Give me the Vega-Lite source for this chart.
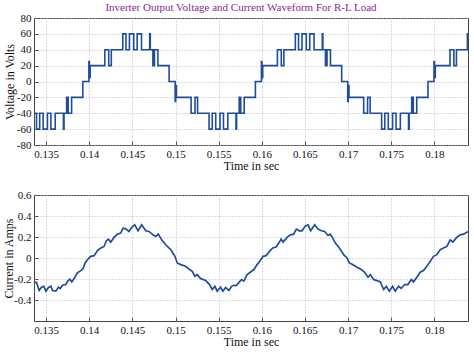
{
  "$schema": "https://vega.github.io/schema/vega-lite/v6.json",
  "autosize": {"type": "pad"},
  "padding": {"left": 2, "top": 1, "right": 5, "bottom": 2},
  "background": "white",
  "title": {"text": "Inverter Output Voltage and Current Waveform For R-L Load", "font": "Liberation Serif", "fontSize": 11, "fontWeight": "normal", "color": "#8b1f8f", "anchor": "middle", "frame": "group", "offset": -1, "dx": -10},
  "config": {
    "view": {"stroke": "#444", "strokeWidth": 1},
    "axis": {"labelFont": "Liberation Serif", "labelFontSize": 11, "labelColor": "#111", "titleFont": "Liberation Serif", "titleFontSize": 12, "titleFontWeight": "normal", "titleColor": "#111", "domain": false, "tickColor": "#555", "tickSize": -4, "gridColor": "#b8b8b8", "gridDash": [1, 2], "gridWidth": 1, "labelPadding": 7}
  },
  "datasets": {
    "voltage": [
      {"t": 0.1336, "v": -40}, {"t": 0.13389, "v": -60}, {"t": 0.13426, "v": -40}, {"t": 0.13466, "v": -60}, {"t": 0.13516, "v": -40}, {"t": 0.13556, "v": -60}, {"t": 0.13606, "v": -40}, {"t": 0.13701, "v": -60}, {"t": 0.13708, "v": -40}, {"t": 0.13738, "v": -20}, {"t": 0.13756, "v": -40}, {"t": 0.13796, "v": -20},
      {"t": 0.13926, "v": 0}, {"t": 0.13996, "v": 25}, {"t": 0.14002, "v": 5}, {"t": 0.14011, "v": 20}, {"t": 0.14181, "v": 40}, {"t": 0.14226, "v": 20}, {"t": 0.14256, "v": 40}, {"t": 0.14389, "v": 60}, {"t": 0.14426, "v": 40}, {"t": 0.14466, "v": 60}, {"t": 0.14516, "v": 40}, {"t": 0.14556, "v": 60}, {"t": 0.14606, "v": 40}, {"t": 0.14701, "v": 60}, {"t": 0.14708, "v": 40}, {"t": 0.14738, "v": 20}, {"t": 0.14756, "v": 40}, {"t": 0.14796, "v": 20},
      {"t": 0.14926, "v": 0}, {"t": 0.14996, "v": -25}, {"t": 0.15002, "v": -5}, {"t": 0.15011, "v": -20}, {"t": 0.15181, "v": -40}, {"t": 0.15226, "v": -20}, {"t": 0.15256, "v": -40}, {"t": 0.15389, "v": -60}, {"t": 0.15426, "v": -40}, {"t": 0.15466, "v": -60}, {"t": 0.15516, "v": -40}, {"t": 0.15556, "v": -60}, {"t": 0.15606, "v": -40}, {"t": 0.15701, "v": -60}, {"t": 0.15708, "v": -40}, {"t": 0.15738, "v": -20}, {"t": 0.15756, "v": -40}, {"t": 0.15796, "v": -20},
      {"t": 0.15926, "v": 0}, {"t": 0.15996, "v": 25}, {"t": 0.16002, "v": 5}, {"t": 0.16011, "v": 20}, {"t": 0.16181, "v": 40}, {"t": 0.16226, "v": 20}, {"t": 0.16256, "v": 40}, {"t": 0.16389, "v": 60}, {"t": 0.16426, "v": 40}, {"t": 0.16466, "v": 60}, {"t": 0.16516, "v": 40}, {"t": 0.16556, "v": 60}, {"t": 0.16606, "v": 40}, {"t": 0.16701, "v": 60}, {"t": 0.16708, "v": 40}, {"t": 0.16738, "v": 20}, {"t": 0.16756, "v": 40}, {"t": 0.16796, "v": 20},
      {"t": 0.16926, "v": 0}, {"t": 0.16996, "v": -25}, {"t": 0.17002, "v": -5}, {"t": 0.17011, "v": -20}, {"t": 0.17181, "v": -40}, {"t": 0.17226, "v": -20}, {"t": 0.17256, "v": -40}, {"t": 0.17389, "v": -60}, {"t": 0.17426, "v": -40}, {"t": 0.17466, "v": -60}, {"t": 0.17516, "v": -40}, {"t": 0.17556, "v": -60}, {"t": 0.17606, "v": -40}, {"t": 0.17701, "v": -60}, {"t": 0.17708, "v": -40}, {"t": 0.17738, "v": -20}, {"t": 0.17756, "v": -40}, {"t": 0.17796, "v": -20},
      {"t": 0.17926, "v": 0}, {"t": 0.17996, "v": 25}, {"t": 0.18002, "v": 5}, {"t": 0.18011, "v": 20}, {"t": 0.18181, "v": 40}, {"t": 0.18226, "v": 20}, {"t": 0.18256, "v": 40}, {"t": 0.18383, "v": 60}, {"t": 0.1839, "v": 60}
    ],
    "current": [
      {"t": 0.13362, "i": -0.227}, {"t": 0.1339, "i": -0.235}, {"t": 0.1342, "i": -0.309}, {"t": 0.13447, "i": -0.278}, {"t": 0.13474, "i": -0.27}, {"t": 0.13498, "i": -0.316}, {"t": 0.13528, "i": -0.28}, {"t": 0.13556, "i": -0.268}, {"t": 0.13574, "i": -0.31}, {"t": 0.13613, "i": -0.316}, {"t": 0.13644, "i": -0.278}, {"t": 0.13665, "i": -0.29}, {"t": 0.1369, "i": -0.259}, {"t": 0.13729, "i": -0.253}, {"t": 0.13748, "i": -0.222}, {"t": 0.13775, "i": -0.202}, {"t": 0.13798, "i": -0.227}, {"t": 0.13825, "i": -0.196}, {"t": 0.13863, "i": -0.142}, {"t": 0.13903, "i": -0.12}, {"t": 0.1393, "i": -0.101}, {"t": 0.13952, "i": -0.047}, {"t": 0.13979, "i": -0.016}, {"t": 0.14018, "i": 0.016}, {"t": 0.14057, "i": 0.022}, {"t": 0.14095, "i": 0.07}, {"t": 0.14134, "i": 0.095}, {"t": 0.14172, "i": 0.11}, {"t": 0.14199, "i": 0.165}, {"t": 0.14222, "i": 0.18}, {"t": 0.1425, "i": 0.152}, {"t": 0.14288, "i": 0.196}, {"t": 0.14326, "i": 0.227}, {"t": 0.14365, "i": 0.237}, {"t": 0.14392, "i": 0.284}, {"t": 0.14423, "i": 0.278}, {"t": 0.14461, "i": 0.253}, {"t": 0.145, "i": 0.3}, {"t": 0.14527, "i": 0.316}, {"t": 0.14566, "i": 0.259}, {"t": 0.14608, "i": 0.316}, {"t": 0.14655, "i": 0.259}, {"t": 0.14693, "i": 0.253}, {"t": 0.14739, "i": 0.221}, {"t": 0.1477, "i": 0.205}, {"t": 0.148, "i": 0.227}, {"t": 0.1484, "i": 0.173}, {"t": 0.14886, "i": 0.126}, {"t": 0.14944, "i": 0.08}, {"t": 0.14994, "i": 0.016}, {"t": 0.1502, "i": -0.047}, {"t": 0.1506, "i": -0.063}, {"t": 0.15117, "i": -0.079}, {"t": 0.15164, "i": -0.11}, {"t": 0.15194, "i": -0.126}, {"t": 0.15225, "i": -0.174}, {"t": 0.15252, "i": -0.158}, {"t": 0.15291, "i": -0.196}, {"t": 0.15349, "i": -0.215}, {"t": 0.15395, "i": -0.253}, {"t": 0.15425, "i": -0.3}, {"t": 0.15457, "i": -0.27}, {"t": 0.15483, "i": -0.316}, {"t": 0.15522, "i": -0.278}, {"t": 0.15549, "i": -0.316}, {"t": 0.1558, "i": -0.28}, {"t": 0.15619, "i": -0.309}, {"t": 0.1565, "i": -0.27}, {"t": 0.15676, "i": -0.26}, {"t": 0.15705, "i": -0.262}, {"t": 0.15734, "i": -0.235}, {"t": 0.15765, "i": -0.205}, {"t": 0.15792, "i": -0.22}, {"t": 0.1583, "i": -0.158}, {"t": 0.1587, "i": -0.133}, {"t": 0.15908, "i": -0.11}, {"t": 0.15946, "i": -0.063}, {"t": 0.15985, "i": -0.022}, {"t": 0.16015, "i": 0.016}, {"t": 0.1605, "i": 0.022}, {"t": 0.16089, "i": 0.063}, {"t": 0.16127, "i": 0.095}, {"t": 0.16166, "i": 0.104}, {"t": 0.16197, "i": 0.142}, {"t": 0.16224, "i": 0.18}, {"t": 0.16247, "i": 0.152}, {"t": 0.16293, "i": 0.196}, {"t": 0.16332, "i": 0.221}, {"t": 0.1637, "i": 0.227}, {"t": 0.16401, "i": 0.275}, {"t": 0.16436, "i": 0.259}, {"t": 0.16466, "i": 0.259}, {"t": 0.16506, "i": 0.306}, {"t": 0.16536, "i": 0.316}, {"t": 0.16567, "i": 0.259}, {"t": 0.16613, "i": 0.316}, {"t": 0.16652, "i": 0.275}, {"t": 0.16691, "i": 0.259}, {"t": 0.16729, "i": 0.253}, {"t": 0.16768, "i": 0.215}, {"t": 0.16795, "i": 0.227}, {"t": 0.16822, "i": 0.19}, {"t": 0.16853, "i": 0.142}, {"t": 0.16899, "i": 0.095}, {"t": 0.16949, "i": 0.032}, {"t": 0.16987, "i": 0.0}, {"t": 0.17015, "i": -0.047}, {"t": 0.17053, "i": -0.063}, {"t": 0.17103, "i": -0.088}, {"t": 0.17154, "i": -0.11}, {"t": 0.17192, "i": -0.136}, {"t": 0.17231, "i": -0.183}, {"t": 0.17258, "i": -0.158}, {"t": 0.17296, "i": -0.205}, {"t": 0.17334, "i": -0.215}, {"t": 0.17374, "i": -0.227}, {"t": 0.17412, "i": -0.3}, {"t": 0.17443, "i": -0.27}, {"t": 0.17478, "i": -0.316}, {"t": 0.17516, "i": -0.27}, {"t": 0.17547, "i": -0.316}, {"t": 0.17585, "i": -0.27}, {"t": 0.17616, "i": -0.29}, {"t": 0.17655, "i": -0.253}, {"t": 0.17693, "i": -0.253}, {"t": 0.17732, "i": -0.205}, {"t": 0.17759, "i": -0.227}, {"t": 0.17797, "i": -0.183}, {"t": 0.17836, "i": -0.136}, {"t": 0.17874, "i": -0.12}, {"t": 0.17913, "i": -0.079}, {"t": 0.17952, "i": -0.032}, {"t": 0.1799, "i": 0.016}, {"t": 0.18029, "i": 0.032}, {"t": 0.18068, "i": 0.079}, {"t": 0.18106, "i": 0.095}, {"t": 0.18145, "i": 0.11}, {"t": 0.18184, "i": 0.173}, {"t": 0.18214, "i": 0.152}, {"t": 0.1826, "i": 0.196}, {"t": 0.18299, "i": 0.221}, {"t": 0.18338, "i": 0.227}, {"t": 0.18376, "i": 0.246}, {"t": 0.1839, "i": 0.25}
    ]
  },
  "vconcat": [
    {
      "width": 434,
      "height": 127,
      "data": {"name": "voltage"},
      "mark": {"type": "line", "interpolate": "step-after", "color": "#1f4d9e", "strokeWidth": 1.6, "clip": true},
      "encoding": {
        "x": {"field": "t", "type": "quantitative", "scale": {"domain": [0.1336, 0.1839], "nice": false, "zero": false}, "axis": {"values": [0.135, 0.14, 0.145, 0.15, 0.155, 0.16, 0.165, 0.17, 0.175, 0.18], "labelExpr": "'' + datum.value", "title": "Time in sec", "titlePadding": 1}},
        "y": {"field": "v", "type": "quantitative", "scale": {"domain": [-80, 80], "nice": false}, "axis": {"values": [-80, -60, -40, -20, 0, 20, 40, 60, 80], "labelExpr": "'' + datum.value", "title": "Voltage in Volts", "titlePadding": 0}}
      }
    },
    {
      "width": 434,
      "height": 126,
      "data": {"name": "current"},
      "mark": {"type": "line", "color": "#1f4d9e", "strokeWidth": 1.7, "clip": true},
      "encoding": {
        "x": {"field": "t", "type": "quantitative", "scale": {"domain": [0.1336, 0.1839], "nice": false, "zero": false}, "axis": {"values": [0.135, 0.14, 0.145, 0.15, 0.155, 0.16, 0.165, 0.17, 0.175, 0.18], "labelExpr": "'' + datum.value", "title": "Time in sec", "titlePadding": 1}},
        "y": {"field": "i", "type": "quantitative", "scale": {"domain": [-0.6, 0.6], "nice": false}, "axis": {"values": [-0.4, -0.2, 0, 0.2, 0.4, 0.6], "labelExpr": "'' + datum.value", "title": "Current in Amps", "titlePadding": -2}}
      }
    }
  ],
  "spacing": 50,
  "bounds": "flush"
}
